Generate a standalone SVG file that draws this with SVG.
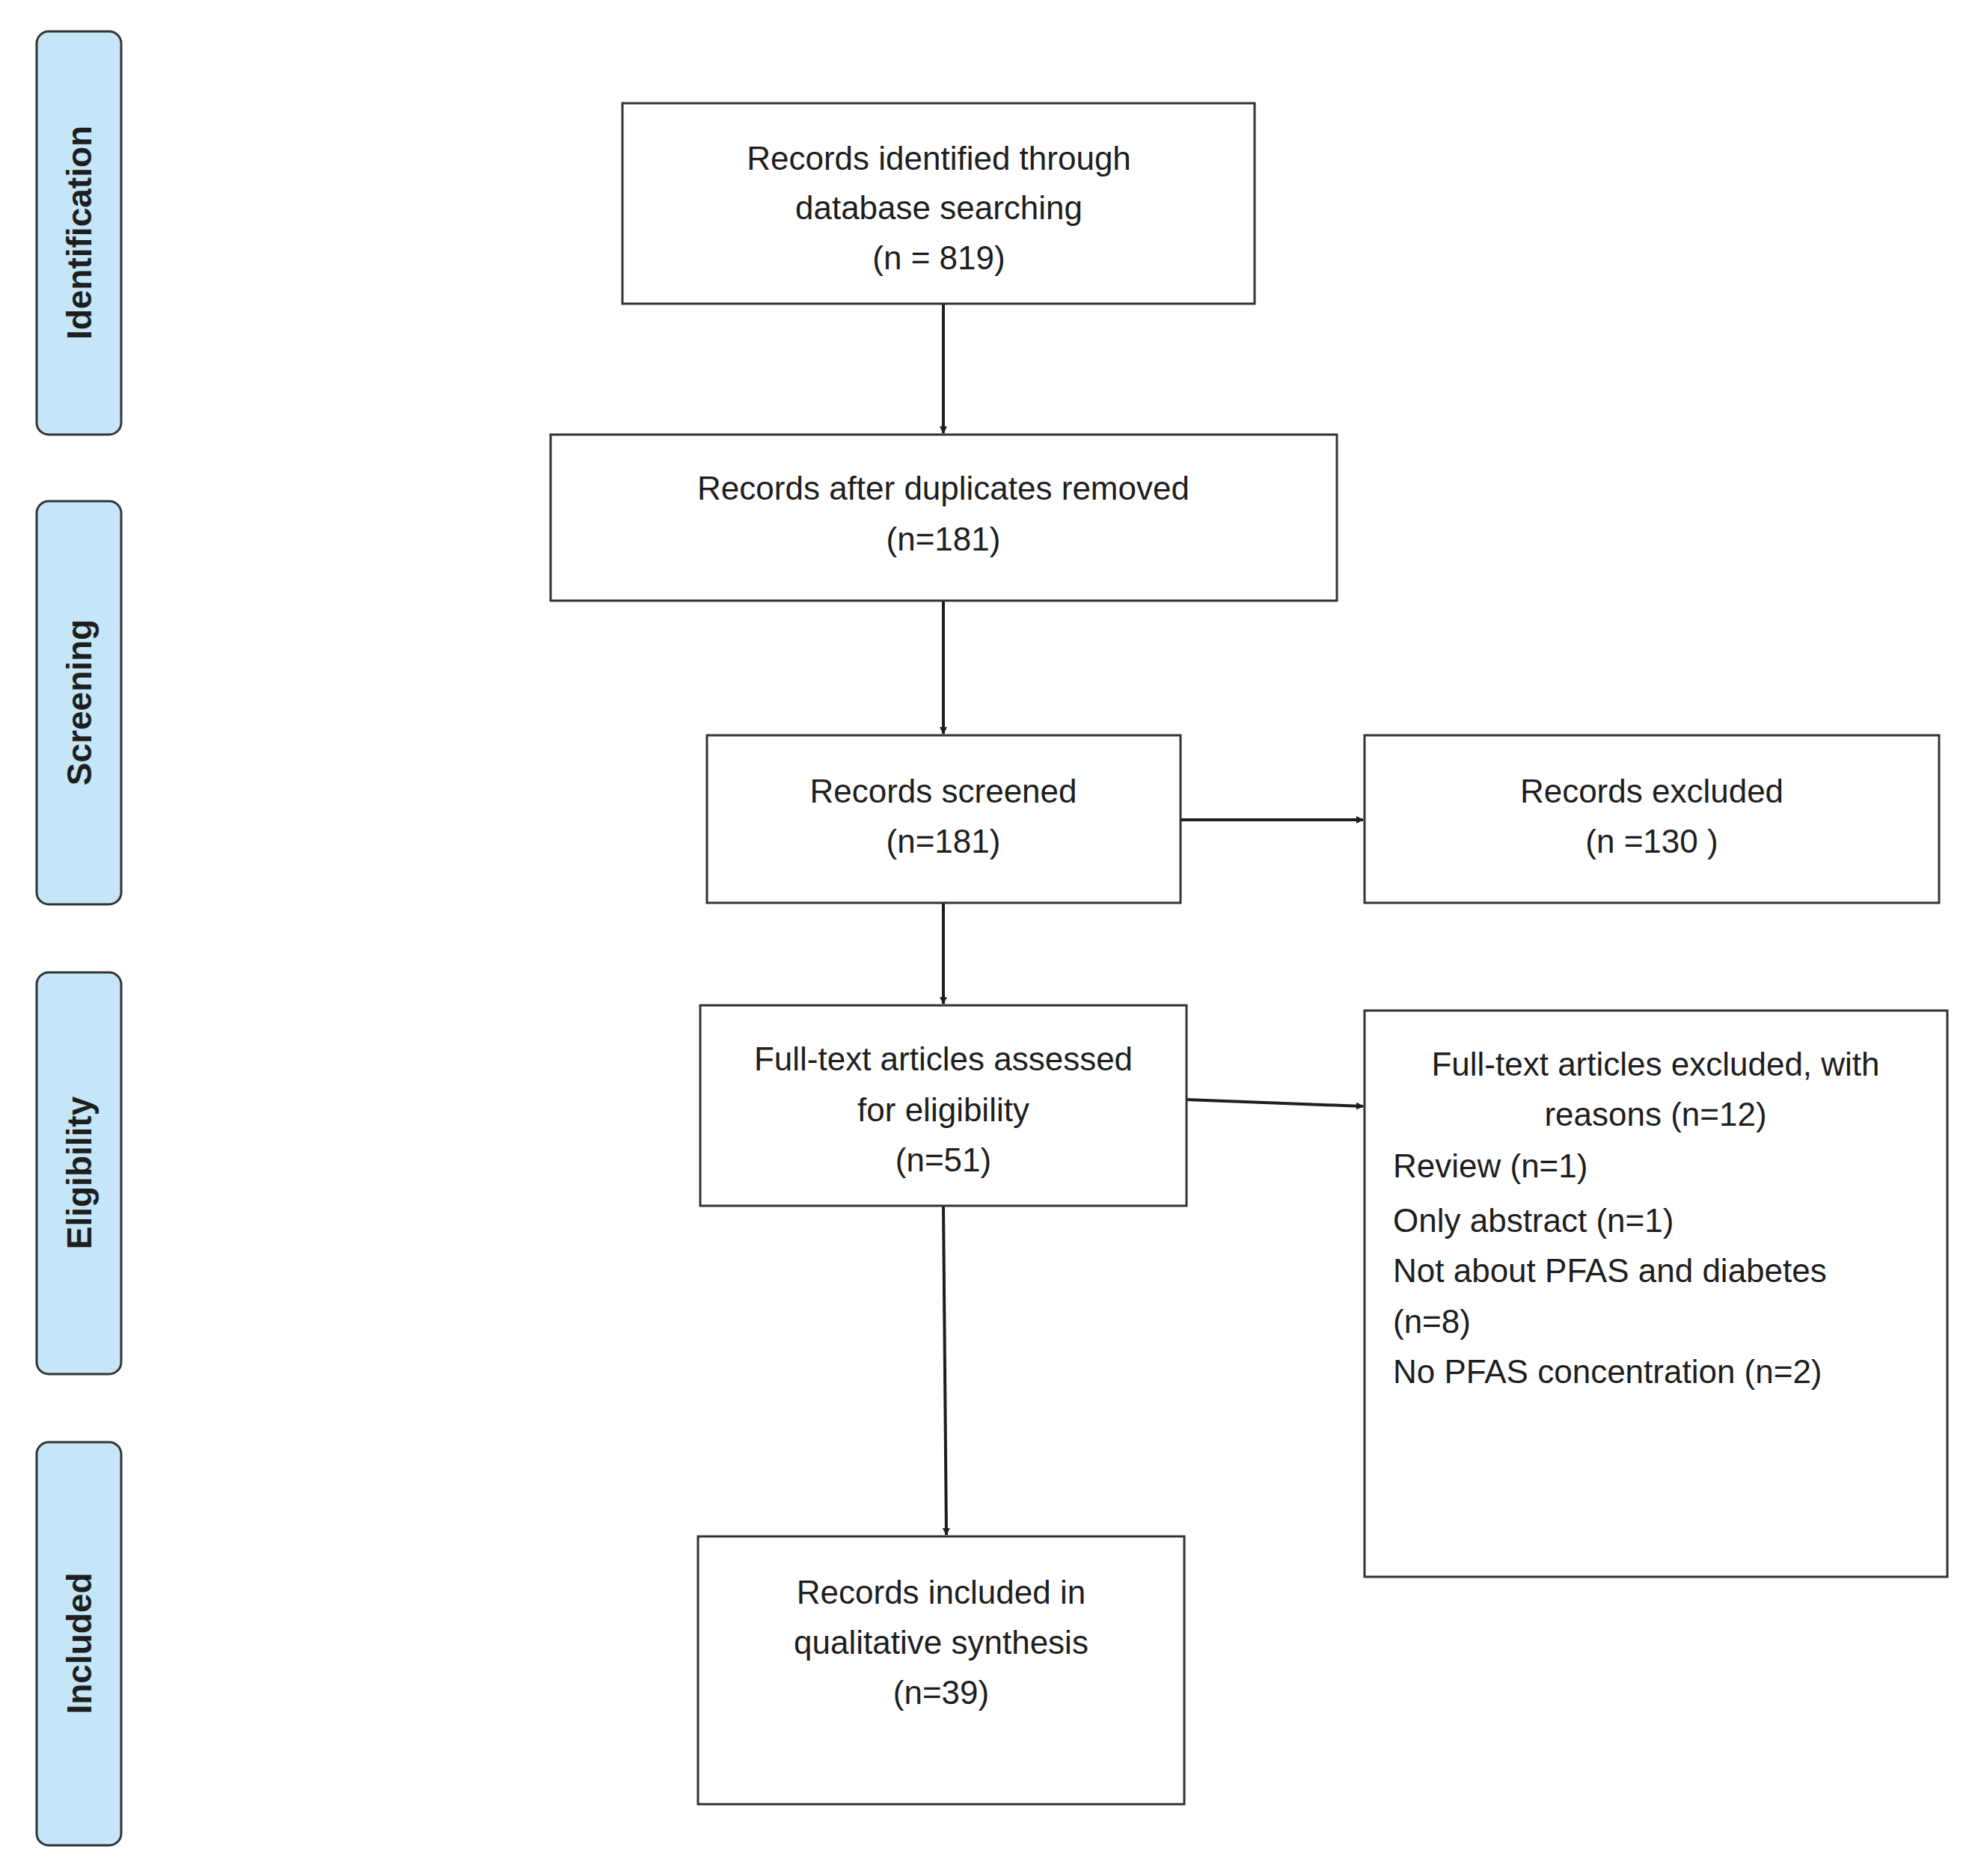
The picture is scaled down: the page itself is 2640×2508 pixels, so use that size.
<svg xmlns="http://www.w3.org/2000/svg" width="2640" height="2508" viewBox="0 0 2640 2508">
<style>
.box{fill:#fff;stroke:#333;stroke-width:3}
.side{fill:#c4e6f8;stroke:#333;stroke-width:3}
.t{font-family:"Liberation Sans",Arial,sans-serif;font-size:44px;fill:#1e1e1e}
.c{text-anchor:middle}
.s{font-family:"Liberation Sans",Arial,sans-serif;font-size:46px;font-weight:bold;fill:#1e1e1e;text-anchor:middle}
.e{stroke:#1e1e1e;stroke-width:4;fill:none;marker-end:url(#ah)}
</style>
<defs><marker id="ah" markerWidth="10" markerHeight="10" refX="9" refY="5" orient="auto" markerUnits="userSpaceOnUse" viewBox="0 0 10 10"><path d="M0,0 L10,5 L0,10 z" fill="#1e1e1e"/></marker></defs>
<rect width="2640" height="2508" fill="#fff"/>
<g id="phase-identification"><rect class="side" x="49" y="42" width="113" height="539" rx="16"/><text class="s" transform="translate(122,311) rotate(-90)">Identification</text></g>
<g id="phase-screening"><rect class="side" x="49" y="670" width="113" height="539" rx="16"/><text class="s" transform="translate(122,939) rotate(-90)">Screening</text></g>
<g id="phase-eligibility"><rect class="side" x="49" y="1300" width="113" height="537" rx="16"/><text class="s" transform="translate(122,1568) rotate(-90)">Eligibility</text></g>
<g id="phase-included"><rect class="side" x="49" y="1928" width="113" height="539" rx="16"/><text class="s" transform="translate(122,2197) rotate(-90)">Included</text></g>
<g id="connectors">
<line class="e" x1="1261" y1="397" x2="1261" y2="579"/>
<line class="e" x1="1261" y1="803" x2="1261" y2="981"/>
<line class="e" x1="1261" y1="1207" x2="1261" y2="1342"/>
<line class="e" x1="1261" y1="1612" x2="1265" y2="2052"/>
<line class="e" x1="1578" y1="1096" x2="1822" y2="1096"/>
<line class="e" x1="1586" y1="1470" x2="1822" y2="1479"/>
</g>
<g id="n1"><rect class="box" x="832" y="138" width="845" height="268"/>
<text class="t c" x="1255" y="227">Records identified through</text><text class="t c" x="1255" y="293">database searching</text><text class="t c" x="1255" y="360">(n = 819)</text></g>
<g id="n2"><rect class="box" x="736" y="581" width="1051" height="222"/>
<text class="t c" x="1261" y="668">Records after duplicates removed</text><text class="t c" x="1261" y="736">(n=181)</text></g>
<g id="n3"><rect class="box" x="945" y="983" width="633" height="224"/>
<text class="t c" x="1261" y="1073">Records screened</text><text class="t c" x="1261" y="1140">(n=181)</text></g>
<g id="n3x"><rect class="box" x="1824" y="983" width="768" height="224"/>
<text class="t c" x="2208" y="1073">Records excluded</text><text class="t c" x="2208" y="1140">(n =130 )</text></g>
<g id="n4"><rect class="box" x="936" y="1344" width="650" height="268"/>
<text class="t c" x="1261" y="1431">Full-text articles assessed</text><text class="t c" x="1261" y="1499">for eligibility</text><text class="t c" x="1261" y="1566">(n=51)</text></g>
<g id="n4x"><rect class="box" x="1824" y="1351" width="779" height="757"/>
<text class="t c" x="2213" y="1438">Full-text articles excluded, with</text><text class="t c" x="2213" y="1505">reasons (n=12)</text>
<text class="t" x="1862" y="1574">Review (n=1)</text><text class="t" x="1862" y="1647">Only abstract (n=1)</text><text class="t" x="1862" y="1714">Not about PFAS and diabetes</text><text class="t" x="1862" y="1782">(n=8)</text><text class="t" x="1862" y="1849">No PFAS concentration (n=2)</text></g>
<g id="n5"><rect class="box" x="933" y="2054" width="650" height="358"/>
<text class="t c" x="1258" y="2144">Records included in</text><text class="t c" x="1258" y="2211">qualitative synthesis</text><text class="t c" x="1258" y="2278">(n=39)</text></g>
</svg>
